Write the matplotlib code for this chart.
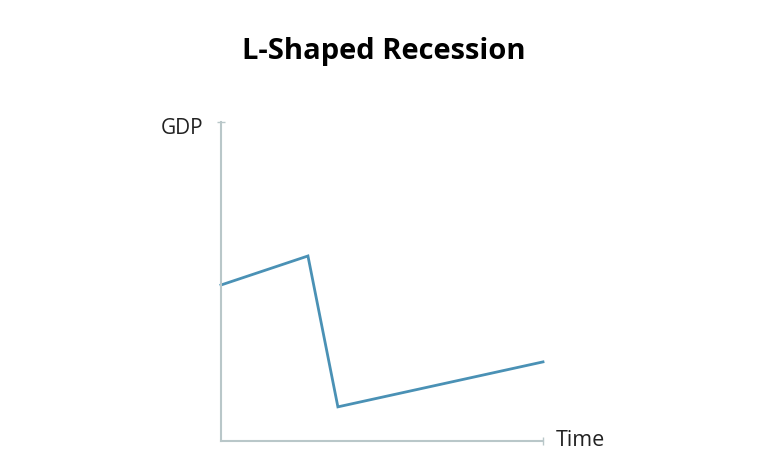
import matplotlib
matplotlib.use("Agg")
import matplotlib.pyplot as plt

# values (axis spans 0-10 on both scales)
time = [0.0, 2.7, 3.63, 10.0]
gdp = [4.89, 5.8, 1.07, 2.48]
x_label = "Time"
y_label = "GDP"
title = "L-Shaped Recession"

LINE_COLOR = "#4a91b5"
AXIS_COLOR = "#b9c7c9"
TEXT_COLOR = "#222222"

plt.rcParams["font.family"] = ["Open Sans", "DejaVu Sans"]

fig = plt.figure(figsize=(7.68, 4.67), dpi=100)
ax = fig.add_axes([221 / 768, 26 / 467, 322 / 768, 319 / 467])

ax.plot(time, gdp, color=LINE_COLOR, linewidth=2, solid_joinstyle="miter", clip_on=False)

ax.set_xlim(0, 10)
ax.set_ylim(0, 10)
for side in ("top", "right"):
    ax.spines[side].set_visible(False)
for side in ("left", "bottom"):
    ax.spines[side].set_color(AXIS_COLOR)
    ax.spines[side].set_linewidth(1.5)

# only the end ticks, no labels
ax.set_xticks([10])
ax.set_yticks([10])
ax.tick_params(axis="both", direction="inout", length=6, width=1,
               color=AXIS_COLOR, labelbottom=False, labelleft=False)

ax.text(-0.055, 0.98, y_label, transform=ax.transAxes, ha="right", va="center",
        fontsize=15, color=TEXT_COLOR)
ax.text(1.04, 0.0, x_label, transform=ax.transAxes, ha="left", va="center",
        fontsize=15.5, color=TEXT_COLOR)

fig.text(0.5, 1 - 51 / 467, title, ha="center", va="center",
         fontsize=21, fontweight="bold", color="black")

fig.savefig("out.png", dpi=100, facecolor="white")
plt.close(fig)
